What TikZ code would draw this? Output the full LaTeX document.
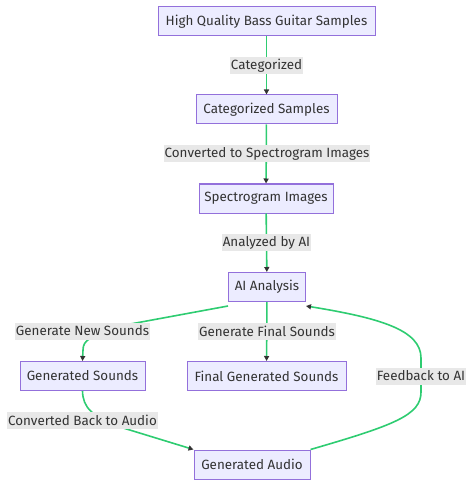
\documentclass[tikz,border=0pt]{standalone}
\usepackage{fontspec}
\setmainfont{Fira Sans}
\usetikzlibrary{arrows.meta}
\definecolor{nodefill}{HTML}{ECECFF}
\definecolor{nodeline}{HTML}{9370DB}
\definecolor{edgecol}{HTML}{2ECC71}
\definecolor{lblfill}{HTML}{E8E8E8}
\definecolor{txt}{HTML}{333333}
\tikzset{
  box/.style={draw=nodeline, fill=nodefill, line width=1pt, minimum height=29pt, inner xsep=0pt, inner ysep=0pt, text=txt, font=\fontsize{13.4}{15}\selectfont},
  lbl/.style={fill=lblfill, inner xsep=1pt, inner ysep=0pt, minimum height=17pt, text=txt, font=\fontsize{13.4}{15}\selectfont},
  edge/.style={draw=edgecol, line width=1.6pt, -{Triangle[length=5pt,width=5pt,color=black!80]}},
}
\begin{document}
\begin{tikzpicture}[x=1pt,y=-1pt]
\useasboundingbox (0,0) rectangle (474,486);
% nodes
\node[box, minimum width=217pt] (hq) at (266.5,21.5) {High Quality Bass Guitar Samples};
\node[box, minimum width=141pt] (cs) at (266.5,109.5) {Categorized Samples};
\node[box, minimum width=134pt] (si) at (266,198.5) {Spectrogram Images};
\node[box, minimum width=77pt] (ai) at (267,287) {AI Analysis};
\node[box, minimum width=125pt] (gs) at (82.5,376) {Generated Sounds};
\node[box, minimum width=159pt] (fg) at (266.5,376) {Final Generated Sounds};
\node[box, minimum width=116pt] (ga) at (252,464.5) {Generated Audio};
% edges
\draw[edge] (hq) -- (cs);
\draw[edge] (cs) -- (si);
\draw[edge] (si) -- (ai);
\draw[edge] (ai) -- (fg);
\draw[edge] ([yshift=-4pt]ai.south west) -- (125,325) .. controls (90,336) and (83,340) .. (83,350) -- (gs.north);
\draw[edge] (gs.south) .. controls (83,408) and (92,416) .. (120,427) -- (ga.north west);
\draw[edge] (ga.north east) .. controls (395,425) and (421,415) .. (421,392) -- (421,358) .. controls (421,330) and (380,318) .. ([yshift=-4pt]ai.south east);
% labels
\node[lbl] (l1) at (266.5,65.5) {Categorized};
\node[lbl] (l2) at (267,154) {Converted to Spectrogram Images};
\node[lbl] (l3) at (266.5,242.5) {Analyzed by AI};
\node[lbl] (l4) at (82.5,331) {Generate New Sounds};
\node[lbl] (l5) at (267,331) {Generate Final Sounds};
\node[lbl] (l6) at (421,376) {Feedback to AI};
\node[lbl] (l7) at (82.5,420) {Converted Back to Audio};
\end{tikzpicture}
\end{document}
